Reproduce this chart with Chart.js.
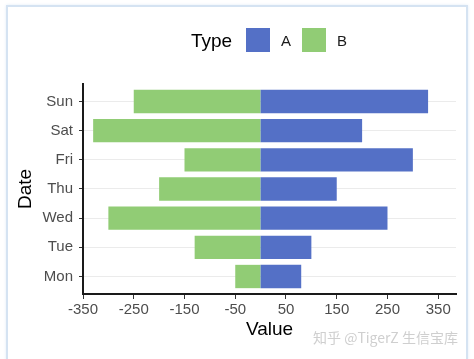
<!DOCTYPE html>
<html>
<head>
<meta charset="utf-8">
<script src="https://cdn.jsdelivr.net/npm/chart.js@4"></script>
<style>
	body { margin: 0; width: 474px; height: 359px; background: #fff; position: relative; overflow: hidden; font-family: "Liberation Sans", Arial, sans-serif; }
	#frame { position: absolute; left: 6px; top: 5px; width: 458px; height: 352px; border: 2px solid #d5e3f2; box-shadow: 0 0 3px #e3edf8; }
	#chart { position: absolute; left: 0; top: 0; }
	#legend { position: absolute; left: 0; top: 0; }
	.lg-title { position: absolute; left: 191px; top: 29px; font-size: 19px; color: #000; line-height: 24px; }
	.lg-box { position: absolute; top: 28px; width: 24px; height: 24px; }
	.lg-label { position: absolute; top: 29px; font-size: 15px; line-height: 24px; color: #1a1a1a; }
	#mark { position: absolute; left: 313px; top: 327px; font-family: "Noto Sans CJK SC", sans-serif; font-size: 14px; color: #cfcfcf; white-space: nowrap; }
</style>
</head>
<body>
<div id="frame"></div>
<canvas id="chart" width="474" height="359"></canvas>
<div id="legend"></div>
<div id="mark">知乎 @TigerZ 生信宝库</div>
<script>
	const days = ['Mon', 'Tue', 'Wed', 'Thu', 'Fri', 'Sat', 'Sun'];
	const valuesA = [80, 100, 250, 150, 300, 200, 330];
	const valuesB = [-50, -130, -300, -200, -150, -330, -250];
	const xTicks = [-350, -250, -150, -50, 50, 150, 250, 350];
	const seriesNames = ['A', 'B'];
	const colors = ['#5470c6', '#91cc75'];

	const toPoints = (vals) => vals.map((v, i) => ({ x: v, y: i }));

	// legend drawn in html, ggplot style: title on the left
	const legend = document.getElementById('legend');
	legend.innerHTML = '<div class="lg-title">Type</div>';
	const boxLeft = [246, 302];
	seriesNames.forEach((name, i) => {
		legend.innerHTML += '<div class="lg-box" style="left:' + boxLeft[i] + 'px;background:' + colors[i] + '"></div>';
		legend.innerHTML += '<div class="lg-label" style="left:' + (boxLeft[i] + 35) + 'px">' + name + '</div>';
	});

	const tickFont = { family: 'Liberation Sans', size: 15 };
	const titleFont = { family: 'Liberation Sans', size: 19 };

	new Chart(document.getElementById('chart'), {
		type: 'bar',
		data: {
			datasets: [
				{ label: seriesNames[0], data: toPoints(valuesA), backgroundColor: colors[0] },
				{ label: seriesNames[1], data: toPoints(valuesB), backgroundColor: colors[1] }
			]
		},
		options: {
			indexAxis: 'y',
			responsive: false,
			animation: false,
			categoryPercentage: 0.8,
			barPercentage: 1,
			layout: { padding: { left: 0, right: 18, top: 84, bottom: 0 } },
			plugins: { legend: { display: false }, tooltip: { enabled: false } },
			scales: {
				x: {
					type: 'linear',
					stacked: true,
					min: -350,
					max: 385,
					afterBuildTicks: (scale) => { scale.ticks = xTicks.map((v) => ({ value: v })); },
					afterFit: (scale) => { scale.height = 65; },
					grid: { drawOnChartArea: false, tickLength: 5, tickColor: '#333' },
					border: { color: '#1a1a1a', width: 2 },
					ticks: { font: tickFont, color: '#4d4d4d', padding: 2, maxRotation: 0, autoSkip: false },
					title: { display: true, text: 'Value', font: titleFont, color: '#000', padding: { top: 0, bottom: 18 } }
				},
				y: {
					type: 'linear',
					stacked: true,
					offset: false,
					min: -0.6,
					max: 6.6,
					afterBuildTicks: (scale) => { scale.ticks = days.map((d, i) => ({ value: i })); },
					afterFit: (scale) => { scale.width = 83; },
					grid: { offset: false, color: '#ebebeb', lineWidth: 1, tickLength: 4, tickColor: '#333' },
					border: { color: '#1a1a1a', width: 2 },
					ticks: { font: tickFont, color: '#4d4d4d', padding: 6, autoSkip: false, callback: (v) => days[v] },
					title: { display: true, text: 'Date', font: titleFont, color: '#000', padding: { top: 14, bottom: 0 } }
				}
			}
		}
	});
</script>
</body>
</html>
